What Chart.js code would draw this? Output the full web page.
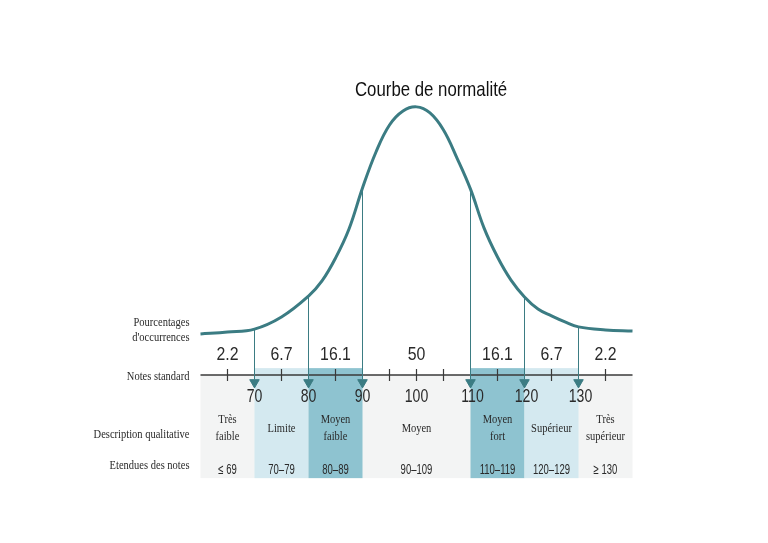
<!DOCTYPE html>
<html>
<head>
<meta charset="utf-8">
<script src="https://cdn.jsdelivr.net/npm/chart.js@4.4.0/dist/chart.umd.min.js"></script>
<style>
  html, body { margin: 0; padding: 0; background: #fff; }
  #wrap { width: 768px; height: 543px; }
</style>
</head>
<body>
<div id="wrap"><canvas id="normale" width="768" height="543"></canvas></div>
<script>
// curve (score -> height, arbitrary units)
const scores = [60, 65, 70, 75, 80, 82.5, 85, 87.5, 90, 92.5, 95, 97.5, 100,
                102.5, 105, 107.5, 110, 112.5, 115, 117.5, 120, 122.5, 125, 127.5, 130, 135, 140];
const heights = [14.9, 15.6, 16.7, 21.1, 28.7, 34.2, 42.5, 53.1, 68.0, 81.1, 90.9, 96.0, 97.5,
                 95.3, 89.1, 78.9, 67.6, 53.5, 42.9, 34.5, 28.4, 24.0, 21.5, 19.3, 17.5, 16.4, 16.0];

const cutScores = [70, 80, 90, 110, 120, 130];
const axisLabels = [70, 80, 90, 100, 110, 120, 130];
const minorTicks = [65, 75, 85, 95, 100, 105, 115, 125, 135];

// one entry per class
const classStart = [60, 70, 80, 90, 110, 120, 130];
const classEnd = [70, 80, 90, 110, 120, 130, 140];
const percents = ['2.2', '6.7', '16.1', '50', '16.1', '6.7', '2.2'];
const descriptions = [['Très', 'faible'], ['Limite'], ['Moyen', 'faible'], ['Moyen'],
                      ['Moyen', 'fort'], ['Supérieur'], ['Très', 'supérieur']];
const ranges = ['≤ 69', '70–79', '80–89', '90–109', '110–119', '120–129', '≥ 130'];
const shade = ['none', 'light', 'dark', 'none', 'dark', 'light', 'none'];

const rowLabels = [['Pourcentages', 18.9], ["d'occurrences", 13.5], ['Notes standard', -0.7],
                   ['Description qualitative', -21.8], ['Etendues des notes', -33.1]];

const teal = '#3b7c83';
const shadeColors = { light: '#d4e9f0', dark: '#8ec3d0', none: null };
const sans = '"Liberation Sans", Arial, sans-serif';
const serif = '"Liberation Serif", "DejaVu Serif", serif';

const curveAt = function(s) {
    return heights[scores.indexOf(s)];
};

// condensed text: the picture uses a narrow face we do not have
const narrowText = function(ctx, text, px, py, sx) {
    ctx.save();
    ctx.translate(px, py);
    ctx.scale(sx, 1);
    ctx.fillText(text, 0, 0);
    ctx.restore();
};

const curvePoints = scores.map(function(s, i) { return { x: s, y: heights[i] }; });

const cutLines = cutScores.map(function(c) {
    return {
        type: 'line',
        data: [{ x: c, y: curveAt(c) }, { x: c, y: -1.5 }],
        borderColor: teal,
        borderWidth: 1,
        pointRadius: 0,
        tension: 0,
        clip: false
    };
});

const tablePlugin = {
    id: 'table',
    beforeDatasetsDraw: function(chart) {
        const ctx = chart.ctx;
        const x = chart.scales.x;
        const y = chart.scales.y;
        const bottom = y.getPixelForValue(-37.5);
        const axisY = y.getPixelForValue(0);
        const stripTop = y.getPixelForValue(2.5);
        ctx.save();
        // grey table background
        ctx.fillStyle = '#f3f4f4';
        ctx.fillRect(x.getPixelForValue(60), axisY, x.getPixelForValue(140) - x.getPixelForValue(60), bottom - axisY);
        for (let i = 0; i < classStart.length; i++) {
            const col = shadeColors[shade[i]];
            if (!col) continue;
            const x0 = x.getPixelForValue(classStart[i]);
            const x1 = x.getPixelForValue(classEnd[i]);
            ctx.fillStyle = col;
            ctx.fillRect(x0, stripTop, x1 - x0, bottom - stripTop);
        }
        // standard score axis
        ctx.strokeStyle = '#3a3a3a';
        ctx.lineWidth = 1.5;
        ctx.beginPath();
        ctx.moveTo(x.getPixelForValue(60), axisY);
        ctx.lineTo(x.getPixelForValue(140), axisY);
        ctx.stroke();
        ctx.restore();
    },
    afterDraw: function(chart) {
        const ctx = chart.ctx;
        const x = chart.scales.x;
        const y = chart.scales.y;
        ctx.save();
        ctx.textAlign = 'center';
        ctx.textBaseline = 'middle';

        ctx.fillStyle = '#111';
        ctx.font = '21px ' + sans;
        narrowText(ctx, 'Courbe de normalité', x.getPixelForValue(102.7), y.getPixelForValue(103.5), 0.8);

        ctx.fillStyle = '#2a2a2a';
        for (let i = 0; i < classStart.length; i++) {
            const mid = x.getPixelForValue((classStart[i] + classEnd[i]) / 2);
            ctx.font = '18px ' + sans;
            narrowText(ctx, percents[i], mid, y.getPixelForValue(7.3), 0.88);

            ctx.font = '12.5px ' + serif;
            const d = descriptions[i];
            if (d.length === 2) {
                narrowText(ctx, d[0], mid, y.getPixelForValue(-16.4), 0.84);
                narrowText(ctx, d[1], mid, y.getPixelForValue(-22.6), 0.84);
            } else {
                narrowText(ctx, d[0], mid, y.getPixelForValue(-19.4), 0.84);
            }

            ctx.font = '14px ' + sans;
            narrowText(ctx, ranges[i], mid, y.getPixelForValue(-34.5), 0.68);
        }

        ctx.font = '19px ' + sans;
        axisLabels.forEach(function(v) {
            narrowText(ctx, String(v), x.getPixelForValue(v) + (v > 100 ? 2 : 0), y.getPixelForValue(-8), 0.74);
        });

        ctx.textAlign = 'right';
        ctx.font = '12.5px ' + serif;
        rowLabels.forEach(function(r) {
            narrowText(ctx, r[0], x.getPixelForValue(60) - 11, y.getPixelForValue(r[1]), 0.84);
        });
        ctx.restore();
    }
};

new Chart(document.getElementById('normale'), {
    type: 'line',
    data: {
        datasets: [{
            data: curvePoints,
            borderColor: teal,
            borderWidth: 3,
            pointRadius: 0,
            tension: 0.4,
            clip: false
        }].concat(cutLines).concat([{
            type: 'scatter',
            data: cutScores.map(function(c) { return { x: c, y: -2.7 }; }),
            pointStyle: 'triangle',
            pointRotation: 180,
            pointRadius: 5.5,
            pointBackgroundColor: teal,
            pointBorderColor: teal,
            pointBorderWidth: 1,
            clip: false
        }, {
            type: 'scatter',
            data: minorTicks.map(function(t) { return { x: t, y: 0 }; }),
            pointStyle: 'line',
            pointRotation: 90,
            pointRadius: 6,
            pointBorderColor: '#3a3a3a',
            pointBorderWidth: 1.2,
            clip: false
        }])
    },
    options: {
        responsive: false,
        animation: false,
        // chart area runs from the top of the curve down to the bottom of the table,
        // 5.4 px per score unit so the thin cut lines land on pixel centres
        layout: { padding: { left: 200.5, right: 135.5, top: 100, bottom: 64.875 } },
        plugins: { legend: { display: false }, tooltip: { enabled: false }, title: { display: false } },
        scales: {
            x: { type: 'linear', min: 60, max: 140, display: false },
            y: { min: -37.5, max: 100, display: false }
        }
    },
    plugins: [tablePlugin]
});
</script>
</body>
</html>
